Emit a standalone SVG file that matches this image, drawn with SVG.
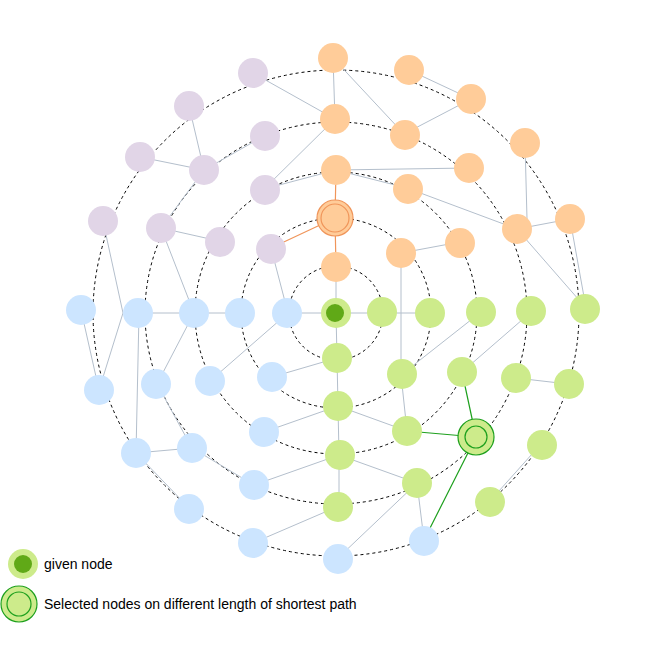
<svg xmlns="http://www.w3.org/2000/svg" width="664" height="666" viewBox="0 0 664 666">
<style>
.ring{fill:none;stroke:#000;stroke-width:1;stroke-dasharray:3 3}
.e{stroke:#b4bfcc;stroke-width:1;fill:none}
.eo{stroke:#f0955a;stroke-width:1.2;fill:none}
.eg{stroke:#1ea01e;stroke-width:1.2;fill:none}
.o{fill:#ffcc99}.p{fill:#e1d5e7}.b{fill:#cce5ff}.g{fill:#cdeb8b}
text{font-family:"Liberation Sans",Arial,sans-serif;font-size:14px;fill:#000}
</style>
<g id="rings">
<circle class="ring" cx="336" cy="313" r="47"/>
<circle class="ring" cx="336" cy="313" r="95"/>
<circle class="ring" cx="336" cy="313" r="141"/>
<circle class="ring" cx="336" cy="313" r="191"/>
<circle class="ring" cx="336" cy="313" r="243"/>
</g>
<g id="connectors">
<path class="e" d="M333,58L335,119M253,73L335,119M333,58L404,134M409,70L471,99M404,134L471,99M335,119L264,189M336,170L264,189M336,170L469,168M336,170L407,188M407,188L517,229M525,143L527,219M517,229L570,219M517,229L586,308M570,219L586,308M401,253L460,242M401,253L401,375M336,267L336,313"/>
<path class="e" d="M189,106L204,170M140,157L204,170M204,170L264,136M204,170L161,228M161,228L219,241M161,228L194,313M103,221L123,313L99,390M81,310L99,390M271,248L288,313"/>
<path class="e" d="M139,313L240,313M288,313L336,313M139,313L136,453M194,313L157,384M288,313L210,381M272,377L337,358M157,384L192,448M136,453L192,448M136,453L190,509M192,448L254,485M254,485L339,455M264,432L338,406M253,543L339,506"/>
<path class="e" d="M336,313L337,358L338,406L339,455L339,506M338,558L417,483M424,540L417,483M339,455L417,483M338,406L407,431M401,375L481,312M401,375L407,431M336,313L430,313M462,372L530,313M516,378L568,384M541,444L490,501"/>
<path class="eo" d="M336,170L335,218L336,267M335,218L271,248"/>
<path class="eg" d="M407,431L476,437M462,372L476,437M476,437L424,540"/>
</g>
<g id="orange-nodes">
<circle class="o" cx="333" cy="58" r="15"/><circle class="o" cx="409" cy="70" r="15"/><circle class="o" cx="471" cy="99" r="15"/><circle class="o" cx="525" cy="143" r="15"/><circle class="o" cx="570" cy="219" r="15"/>
<circle class="o" cx="335" cy="119" r="15"/><circle class="o" cx="405" cy="135" r="15"/><circle class="o" cx="469" cy="168" r="15"/><circle class="o" cx="517" cy="229" r="15"/>
<circle class="o" cx="336" cy="170" r="15"/><circle class="o" cx="408" cy="189" r="15"/><circle class="o" cx="460" cy="243" r="15"/><circle class="o" cx="401" cy="253" r="15"/><circle class="o" cx="336" cy="267" r="15"/>
</g>
<g id="orange-selected">
<circle cx="335" cy="218" r="18" fill="#ffcc99" stroke="#f0955a" stroke-width="1.2"/>
<circle cx="335" cy="218" r="14" fill="none" stroke="#f0955a" stroke-width="1.2"/>
</g>
<g id="purple-nodes">
<circle class="p" cx="253" cy="73" r="15"/><circle class="p" cx="189" cy="106" r="15"/><circle class="p" cx="140" cy="157" r="15"/><circle class="p" cx="103" cy="221" r="15"/>
<circle class="p" cx="265" cy="136" r="15"/><circle class="p" cx="204" cy="170" r="15"/><circle class="p" cx="161" cy="228" r="15"/><circle class="p" cx="265" cy="190" r="15"/><circle class="p" cx="220" cy="242" r="15"/><circle class="p" cx="271" cy="249" r="15"/>
</g>
<g id="blue-nodes">
<circle class="b" cx="81" cy="310" r="15"/><circle class="b" cx="138" cy="313" r="15"/><circle class="b" cx="194" cy="313" r="15"/><circle class="b" cx="240" cy="313" r="15"/><circle class="b" cx="287" cy="313" r="15"/>
<circle class="b" cx="99" cy="390" r="15"/><circle class="b" cx="156" cy="384" r="15"/><circle class="b" cx="210" cy="381" r="15"/><circle class="b" cx="272" cy="377" r="15"/>
<circle class="b" cx="136" cy="453" r="15"/><circle class="b" cx="192" cy="448" r="15"/><circle class="b" cx="264" cy="432" r="15"/><circle class="b" cx="254" cy="485" r="15"/><circle class="b" cx="189" cy="509" r="15"/>
<circle class="b" cx="253" cy="543" r="15"/><circle class="b" cx="338" cy="559" r="15"/><circle class="b" cx="424" cy="541" r="15"/>
</g>
<g id="green-nodes">
<circle class="g" cx="382" cy="312" r="15"/><circle class="g" cx="430" cy="313" r="15"/><circle class="g" cx="481" cy="312" r="15"/><circle class="g" cx="531" cy="311" r="15"/><circle class="g" cx="585" cy="309" r="15"/>
<circle class="g" cx="337" cy="358" r="15"/><circle class="g" cx="402" cy="374" r="15"/><circle class="g" cx="462" cy="372" r="15"/><circle class="g" cx="516" cy="378" r="15"/><circle class="g" cx="569" cy="384" r="15"/>
<circle class="g" cx="338" cy="406" r="15"/><circle class="g" cx="407" cy="431" r="15"/><circle class="g" cx="542" cy="445" r="15"/>
<circle class="g" cx="340" cy="455" r="15"/><circle class="g" cx="417" cy="483" r="15"/><circle class="g" cx="490" cy="502" r="15"/><circle class="g" cx="338" cy="507" r="15"/>
</g>
<g id="given-node">
<circle class="g" cx="336" cy="313" r="15"/><circle cx="335" cy="313" r="9" fill="#60a917"/>
</g>
<g id="green-selected">
<circle cx="476" cy="437" r="18" fill="#cdeb8b" stroke="#1ea01e" stroke-width="1.2"/>
<circle cx="476" cy="437" r="11" fill="none" stroke="#1ea01e" stroke-width="1.2"/>
</g>
<g id="legend">
<circle class="g" cx="23" cy="564" r="15"/><circle cx="23" cy="564" r="9" fill="#60a917"/>
<text x="44" y="569">given node</text>
<circle cx="19" cy="604" r="18" fill="#cdeb8b" stroke="#1ea01e" stroke-width="1.2"/>
<circle cx="19" cy="604" r="12" fill="none" stroke="#1ea01e" stroke-width="1.2"/>
<text x="44" y="609">Selected nodes on different length of shortest path</text>
</g>
</svg>
